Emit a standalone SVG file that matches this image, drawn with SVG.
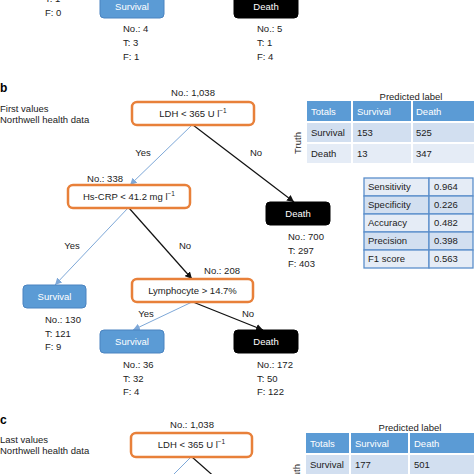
<svg xmlns="http://www.w3.org/2000/svg" width="474" height="474" viewBox="0 0 474 474">
<defs>
<style>
text{font-family:"Liberation Sans",Arial,sans-serif;font-size:9.5px;fill:#222}
.c{text-anchor:middle}
.w{fill:#fff}
.bold{font-weight:bold;font-size:12px;fill:#000}
.split{fill:#fff;stroke:#e8803a;stroke-width:2.5}
.surv{fill:#5b9bd5;stroke:#4a83c0;stroke-width:1}
.death{fill:#000;stroke:#000}
.yes{stroke:#7ea8d8;stroke-width:1;fill:none}
.no{stroke:#111;stroke-width:1.2;fill:none}
.hd{fill:#5b9bd5}
.r1{fill:#d2dff0}
.r2{fill:#e5ecf6}
.m{stroke:#5b8fcb;stroke-width:1.3}
.sup{font-size:6.5px}
</style>
<marker id="ab" viewBox="0 0 10 10" refX="10" refY="5" markerWidth="7" markerHeight="7" orient="auto" markerUnits="userSpaceOnUse"><path d="M0,0 L10,5 L0,10 z" fill="#7ea8d8"/></marker>
<marker id="ak" viewBox="0 0 10 10" refX="10" refY="5" markerWidth="7" markerHeight="7" orient="auto" markerUnits="userSpaceOnUse"><path d="M0,0 L10,5 L0,10 z" fill="#111"/></marker>
</defs>
<rect width="474" height="474" fill="#fff"/>

<!-- Panel a (cropped top) -->
<g id="a-left-leaf-stats">
<text x="45" y="2">T: 1</text>
<text x="45" y="15.5">F: 0</text>
</g>
<g id="a-survival">
<rect class="surv" x="100" y="-6" width="64" height="24" rx="4"/>
<text class="c w" x="132" y="9.5">Survival</text>
<text x="123" y="32.4">No.: 4</text>
<text x="123" y="46">T: 3</text>
<text x="123" y="59.5">F: 1</text>
</g>
<g id="a-death">
<rect class="death" x="234" y="-6" width="64" height="24" rx="4"/>
<text class="c w" x="266" y="9.5">Death</text>
<text x="257" y="32.4">No.: 5</text>
<text x="257" y="46">T: 1</text>
<text x="257" y="59.5">F: 4</text>
</g>

<!-- Panel b -->
<g id="b-label">
<text class="bold" x="0" y="92">b</text>
<text x="0" y="111.5">First values</text>
<text x="0" y="122.5">Northwell health data</text>
</g>

<g id="b-connectors">
<line class="yes" x1="192" y1="125" x2="130" y2="185" marker-end="url(#ab)"/>
<line class="no" x1="193" y1="125" x2="294" y2="202" marker-end="url(#ak)"/>
<line class="yes" x1="128" y1="208" x2="55" y2="285" marker-end="url(#ab)"/>
<line class="no" x1="129" y1="208" x2="192" y2="279" marker-end="url(#ak)"/>
<line class="yes" x1="192" y1="302" x2="133" y2="330" marker-end="url(#ab)"/>
<line class="no" x1="193" y1="302" x2="263" y2="330" marker-end="url(#ak)"/>
<text class="c" x="143" y="155.5">Yes</text>
<text class="c" x="256" y="155.5">No</text>
<text class="c" x="72" y="248.5">Yes</text>
<text class="c" x="185" y="248.5">No</text>
<text class="c" x="146" y="316.5">Yes</text>
<text class="c" x="248" y="316.5">No</text>
</g>

<g id="b-ldh">
<text class="c" x="193" y="95.5">No.: 1,038</text>
<rect class="split" x="132" y="102" width="122" height="23" rx="5"/>
<text class="c" x="193" y="117">LDH &lt; 365 U l<tspan class="sup" dy="-4">−1</tspan></text>
</g>
<g id="b-hscrp">
<text class="c" x="105" y="181.5">No.: 338</text>
<rect class="split" x="68" y="185" width="122" height="23" rx="5"/>
<text class="c" x="129" y="200">Hs-CRP &lt; 41.2 mg l<tspan class="sup" dy="-4">−1</tspan></text>
</g>
<g id="b-lymph">
<text class="c" x="222" y="273.5">No.: 208</text>
<rect class="split" x="132" y="279" width="121" height="23" rx="5"/>
<text class="c" x="192.5" y="294">Lymphocyte &gt; 14.7%</text>
</g>
<g id="b-death-1">
<rect class="death" x="266" y="202" width="64" height="23" rx="4"/>
<text class="c w" x="298" y="217">Death</text>
<text x="288" y="240.4">No.: 700</text>
<text x="288" y="253.9">T: 297</text>
<text x="288" y="267.4">F: 403</text>
</g>
<g id="b-survival-1">
<rect class="surv" x="23" y="285" width="63" height="23" rx="4"/>
<text class="c w" x="54.5" y="300">Survival</text>
<text x="45" y="323.4">No.: 130</text>
<text x="45" y="336.9">T: 121</text>
<text x="45" y="350.4">F: 9</text>
</g>
<g id="b-survival-2">
<rect class="surv" x="100" y="330" width="64" height="23" rx="4"/>
<text class="c w" x="132" y="345">Survival</text>
<text x="123" y="368.4">No.: 36</text>
<text x="123" y="381.9">T: 32</text>
<text x="123" y="395.4">F: 4</text>
</g>
<g id="b-death-2">
<rect class="death" x="234" y="330" width="64" height="23" rx="4"/>
<text class="c w" x="266" y="345">Death</text>
<text x="257" y="368.4">No.: 172</text>
<text x="257" y="381.9">T: 50</text>
<text x="257" y="395.4">F: 122</text>
</g>

<g id="b-confusion">
<text class="c" x="411" y="100.4">Predicted label</text>
<text class="c" transform="translate(300.5,143) rotate(-90)">Truth</text>
<rect class="hd" x="307" y="101" width="44" height="20"/>
<rect class="hd" x="353" y="101" width="58" height="20"/>
<rect class="hd" x="413" y="101" width="61" height="20"/>
<rect class="r1" x="307" y="123" width="44" height="19"/>
<rect class="r1" x="353" y="123" width="58" height="19"/>
<rect class="r1" x="413" y="123" width="61" height="19"/>
<rect class="r2" x="307" y="144" width="44" height="19"/>
<rect class="r2" x="353" y="144" width="58" height="19"/>
<rect class="r2" x="413" y="144" width="61" height="19"/>
<text class="w" x="311" y="114.5">Totals</text>
<text class="w" x="357" y="114.5">Survival</text>
<text class="w" x="416" y="114.5">Death</text>
<text x="311" y="136">Survival</text>
<text x="357" y="136">153</text>
<text x="416" y="136">525</text>
<text x="311" y="157">Death</text>
<text x="357" y="157">13</text>
<text x="416" y="157">347</text>
</g>

<g id="b-metrics">
<rect class="r2 m" x="364" y="178" width="65" height="18"/>
<rect class="r2 m" x="429" y="178" width="44" height="18"/>
<rect class="r1 m" x="364" y="196" width="65" height="18"/>
<rect class="r1 m" x="429" y="196" width="44" height="18"/>
<rect class="r2 m" x="364" y="214" width="65" height="18"/>
<rect class="r2 m" x="429" y="214" width="44" height="18"/>
<rect class="r1 m" x="364" y="232" width="65" height="18"/>
<rect class="r1 m" x="429" y="232" width="44" height="18"/>
<rect class="r2 m" x="364" y="250" width="65" height="18"/>
<rect class="r2 m" x="429" y="250" width="44" height="18"/>
<text x="368" y="190.4">Sensitivity</text><text x="434" y="190.4">0.964</text>
<text x="368" y="208.4">Specificity</text><text x="434" y="208.4">0.226</text>
<text x="368" y="226.4">Accuracy</text><text x="434" y="226.4">0.482</text>
<text x="368" y="244.4">Precision</text><text x="434" y="244.4">0.398</text>
<text x="368" y="262.4">F1 score</text><text x="434" y="262.4">0.563</text>
</g>

<!-- Panel c -->
<g id="c-label">
<text class="bold" x="0" y="424">c</text>
<text x="0" y="442.5">Last values</text>
<text x="0" y="454">Northwell health data</text>
</g>
<g id="c-connectors">
<line class="yes" x1="191" y1="457" x2="170" y2="478"/>
<line class="no" x1="192" y1="457" x2="218" y2="480"/>
</g>
<g id="c-ldh">
<text class="c" x="192" y="427.5">No.: 1,038</text>
<rect class="split" x="131" y="433" width="121" height="24" rx="5"/>
<text class="c" x="191.5" y="448">LDH &lt; 365 U l<tspan class="sup" dy="-4">−1</tspan></text>
</g>
<g id="c-confusion">
<text class="c" x="410" y="430.5">Predicted label</text>
<text class="c" transform="translate(299.5,475) rotate(-90)">Truth</text>
<rect class="hd" x="306" y="433" width="43" height="20"/>
<rect class="hd" x="351" y="433" width="57" height="20"/>
<rect class="hd" x="410" y="433" width="64" height="20"/>
<rect class="r1" x="306" y="455" width="43" height="20"/>
<rect class="r1" x="351" y="455" width="57" height="20"/>
<rect class="r1" x="410" y="455" width="64" height="20"/>
<text class="w" x="310" y="446.5">Totals</text>
<text class="w" x="355" y="446.5">Survival</text>
<text class="w" x="414" y="446.5">Death</text>
<text x="310" y="468">Survival</text>
<text x="355" y="468">177</text>
<text x="414" y="468">501</text>
</g>
</svg>
